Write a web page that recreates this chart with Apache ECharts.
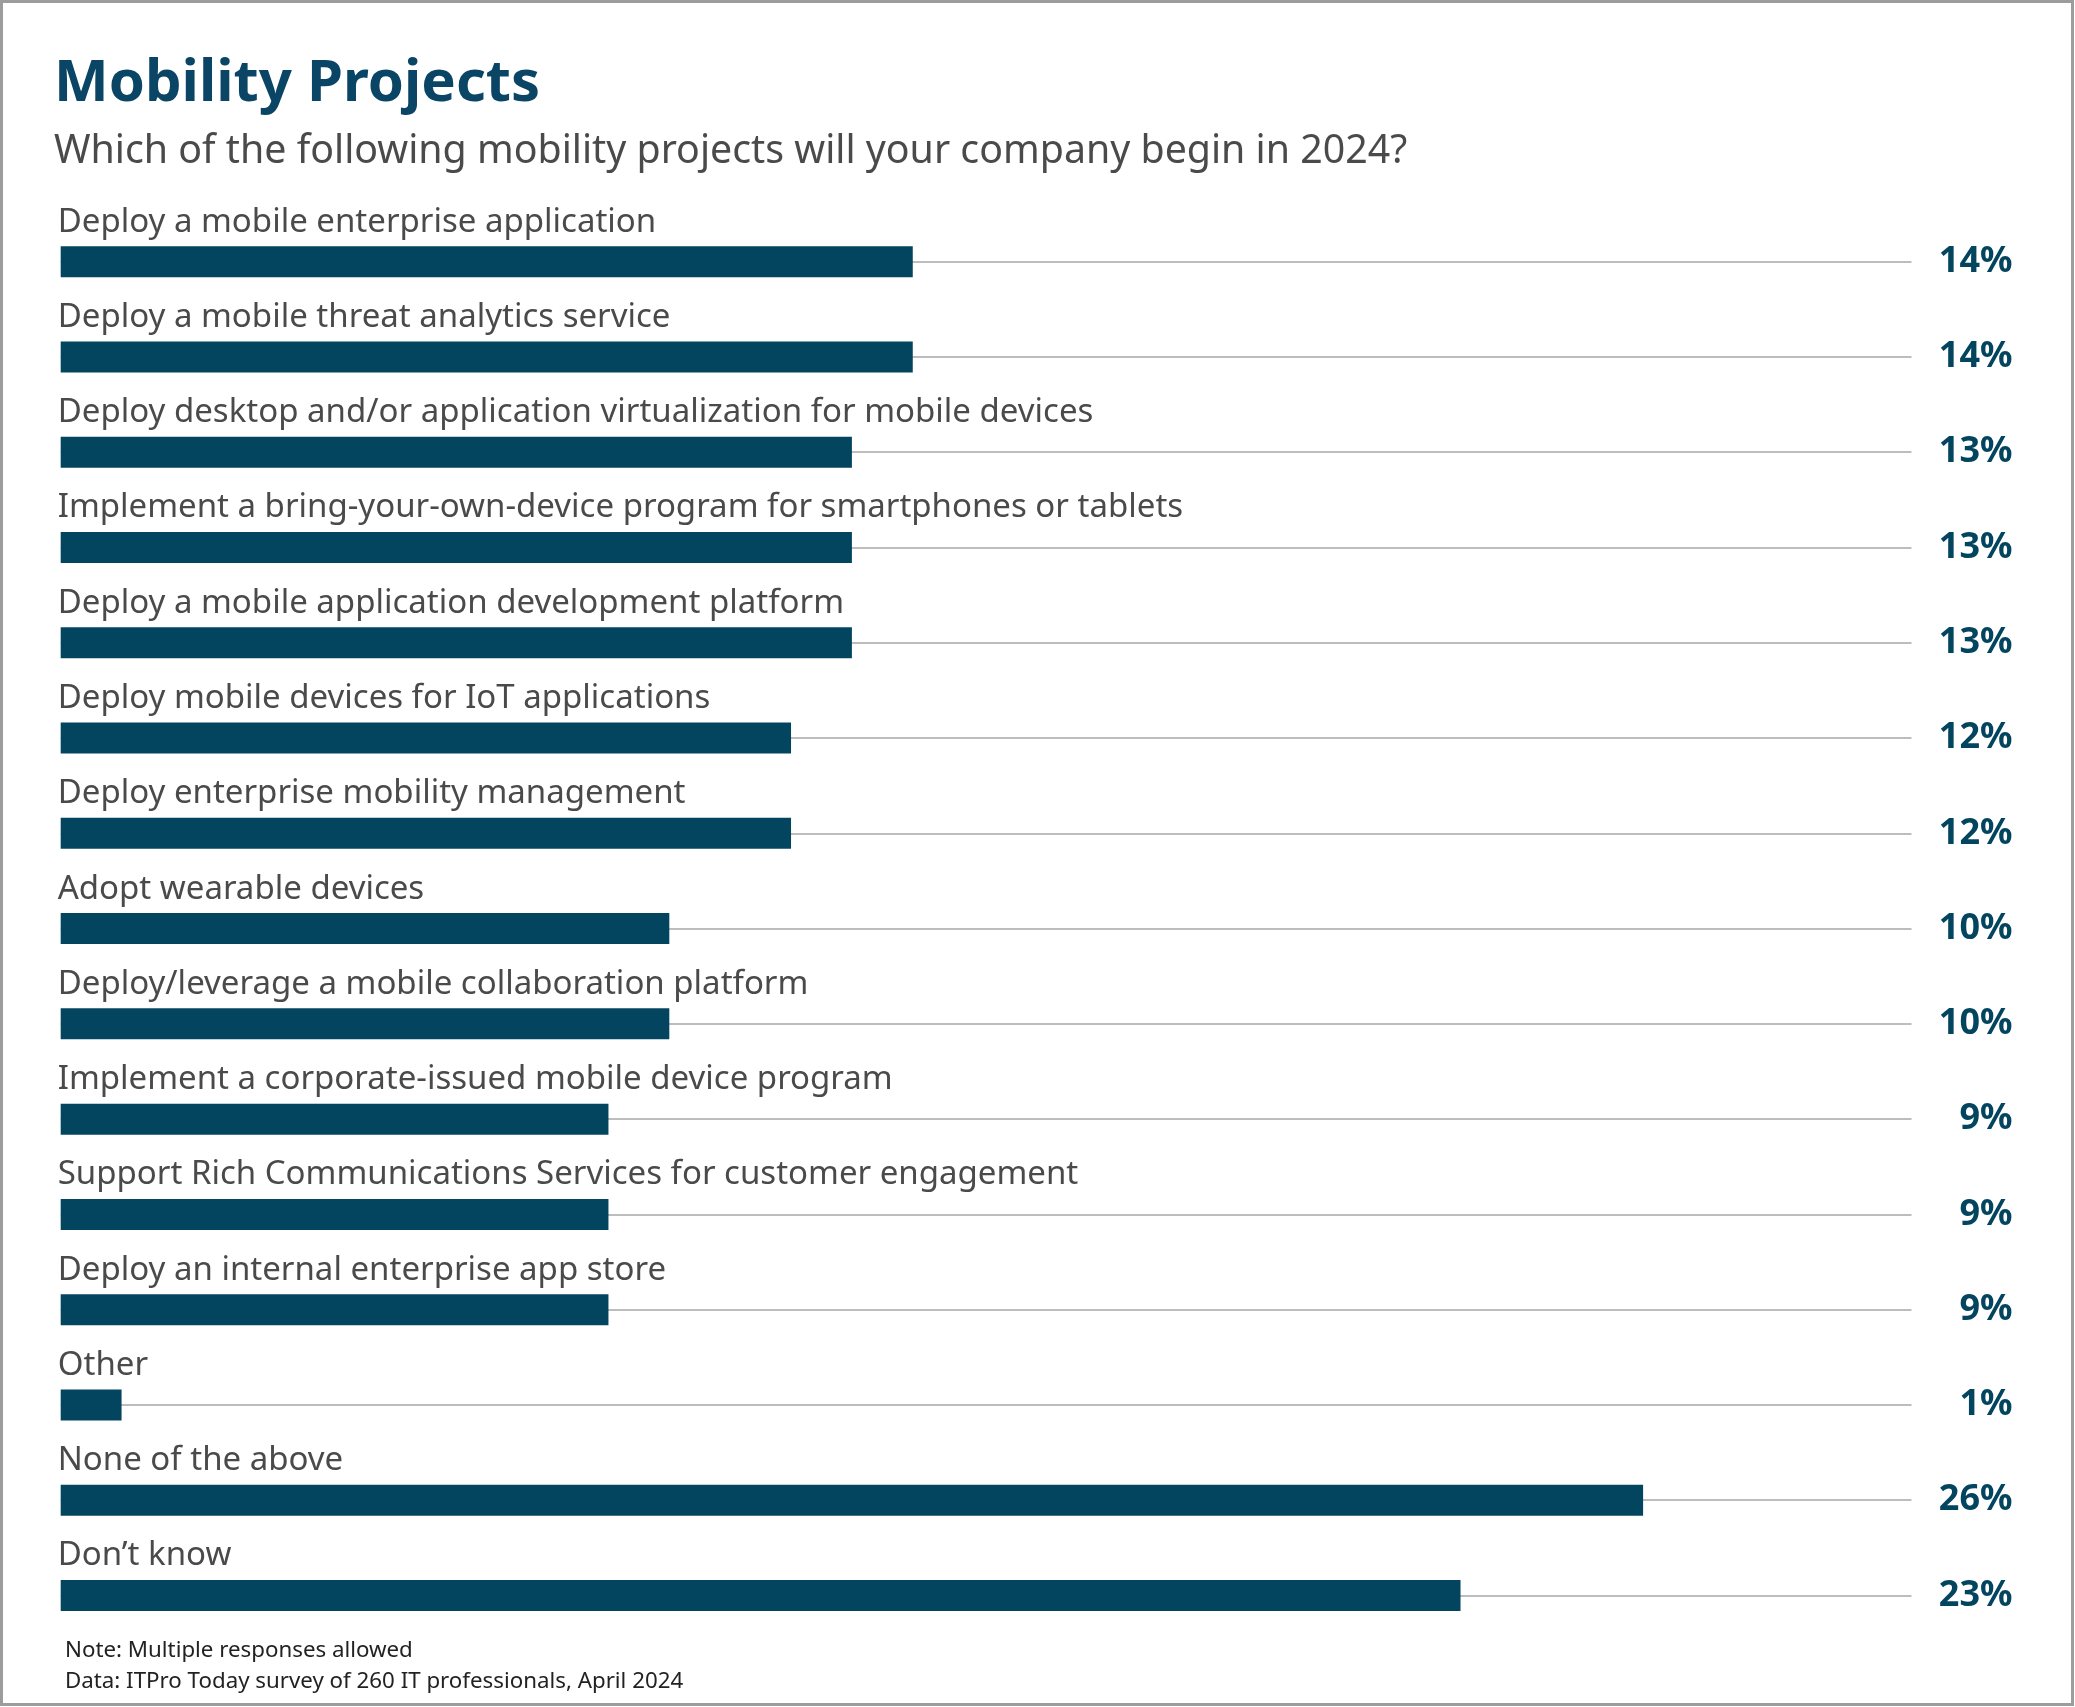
<!DOCTYPE html>
<html>
<head>
<meta charset="utf-8">
<script src="https://cdn.jsdelivr.net/npm/echarts@6/dist/echarts.min.js"></script>
<style>
html,body{margin:0;padding:0;background:#fff;}
#chart{width:2075px;height:1707px;}
</style>
</head>
<body>
<div id="chart"></div>
<script>
const categories = [
  "Deploy a mobile enterprise application",
  "Deploy a mobile threat analytics service",
  "Deploy desktop and/or application virtualization for mobile devices",
  "Implement a bring-your-own-device program for smartphones or tablets",
  "Deploy a mobile application development platform",
  "Deploy mobile devices for IoT applications",
  "Deploy enterprise mobility management",
  "Adopt wearable devices",
  "Deploy/leverage a mobile collaboration platform",
  "Implement a corporate-issued mobile device program",
  "Support Rich Communications Services for customer engagement",
  "Deploy an internal enterprise app store",
  "Other",
  "None of the above",
  "Don\u2019t know"
];
const values = [14, 14, 13, 13, 13, 12, 12, 10, 10, 9, 9, 9, 1, 26, 23];
const titleText = "Mobility Projects";
const subtitleText = "Which of the following mobility projects will your company begin in 2024?";
const noteText = "Note: Multiple responses allowed";
const sourceText = "Data: ITPro Today survey of 260 IT professionals, April 2024";

const FONT = "'Noto Sans', 'Open Sans', sans-serif";
const BLUE = "#03445f";

const chart = echarts.init(document.getElementById('chart'), null, {renderer: 'canvas'});
chart.setOption({
  backgroundColor: '#fff',
  animation: false,
  title: [
    {text: titleText, left: 49, top: 50,
     textStyle: {fontFamily: FONT, fontSize: 58, fontWeight: 'bold', color: '#0a4566'}},
    {text: subtitleText, left: 49, top: 127,
     textStyle: {fontFamily: FONT, fontSize: 39.3, fontWeight: 'normal', color: '#4a4a4a'}},
    {text: noteText, left: 60, top: 1634.5,
     textStyle: {fontFamily: FONT, fontSize: 22.3, fontWeight: 'normal', color: '#222'}},
    {text: sourceText, left: 60, top: 1665.5,
     textStyle: {fontFamily: FONT, fontSize: 22.3, fontWeight: 'normal', color: '#222'}}
  ],
  graphic: [{
    type: 'rect', silent: true,
    shape: {x: 1.5, y: 1.5, width: 2071, height: 1703},
    style: {fill: 'none', stroke: '#9c9c9c', lineWidth: 3}
  }],
  grid: {left: 60.7, right: 163.5, top: 261.7, bottom: 111.5, containLabel: false},
  xAxis: {type: 'value', min: 0, max: 30.41, show: false},
  yAxis: [
    {type: 'category', data: categories, inverse: true, boundaryGap: false,
     axisLine: {show: false}, axisTick: {show: false}, axisLabel: {show: false},
     splitLine: {show: true, lineStyle: {color: '#bdbdbd', width: 2}}},
    {type: 'category', data: categories, inverse: true, boundaryGap: false, position: 'right',
     axisLine: {show: false}, axisTick: {show: false}, splitLine: {show: false},
     axisLabel: {show: true, margin: 101, align: 'right', verticalAlign: 'middle',
       padding: [0, 0, 2, 0],
       fontFamily: FONT, fontSize: 36, fontWeight: 'bold', color: BLUE,
       formatter: function (v, i) { return values[i] + '%'; }}}
  ],
  series: [{
    type: 'bar', data: values, yAxisIndex: 0, barWidth: 31, clip: false,
    itemStyle: {color: BLUE},
    label: {show: true, position: [-3, -24], align: 'left', verticalAlign: 'middle',
      formatter: '{b}', fontFamily: FONT, fontSize: 33, color: '#4a4a4a'}
  }]
});
</script>
</body>
</html>
